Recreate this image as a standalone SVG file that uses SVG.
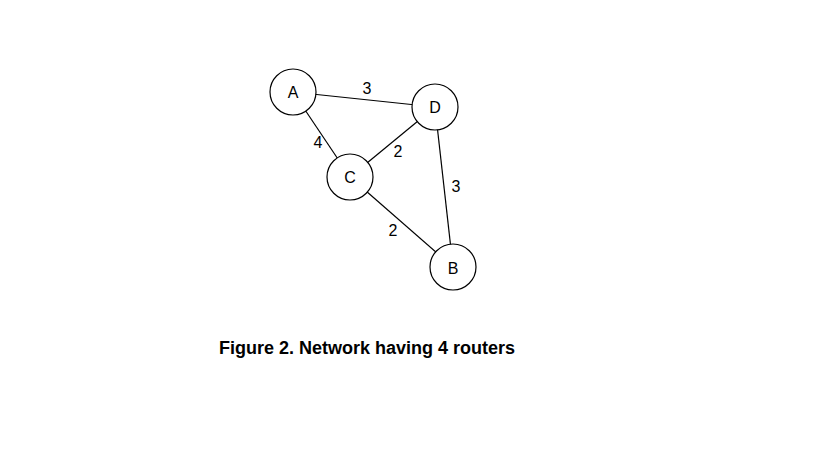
<svg xmlns="http://www.w3.org/2000/svg" width="818" height="460" viewBox="0 0 818 460">
<style>
.n{fill:#fff;stroke:#000;stroke-width:1.2}
.e{stroke:#000;stroke-width:1.2;fill:none}
text{font-family:"Liberation Sans",Arial,sans-serif;font-size:16px;fill:#000;text-anchor:middle;dominant-baseline:central}
.cap{font-weight:bold;font-size:18px;text-anchor:start}
</style>
<rect width="818" height="460" fill="#fff"/>
<g id="connectors">
<line class="e" x1="293" y1="92" x2="435" y2="107"/>
<line class="e" x1="293" y1="92" x2="350" y2="177"/>
<line class="e" x1="435" y1="107" x2="350" y2="177"/>
<line class="e" x1="435" y1="107" x2="453" y2="267"/>
<line class="e" x1="350" y1="177" x2="453" y2="267"/>
<text x="367" y="88">3</text>
<text x="318" y="142">4</text>
<text x="398" y="151">2</text>
<text x="456" y="186">3</text>
<text x="393" y="230">2</text>
</g>
<g id="A"><circle class="n" cx="293" cy="92" r="23"/><text x="293" y="92">A</text></g>
<g id="D"><circle class="n" cx="435" cy="107" r="23"/><text x="435" y="107">D</text></g>
<g id="C"><circle class="n" cx="350" cy="177" r="23"/><text x="350" y="177">C</text></g>
<g id="B"><circle class="n" cx="453" cy="267" r="23"/><text x="453" y="268">B</text></g>
<text class="cap" x="219" y="348">Figure 2. Network having 4 routers</text>
</svg>
